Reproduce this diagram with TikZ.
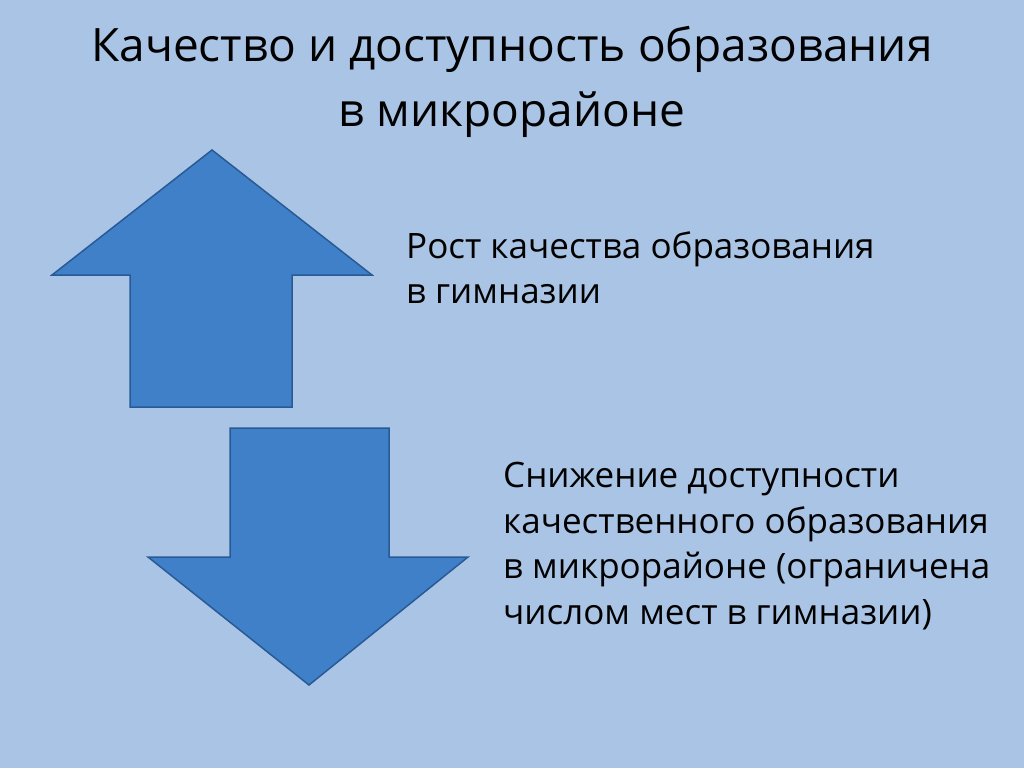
\documentclass[tikz,border=0pt]{standalone}
\usepackage{fontspec}
\setmainfont{Open Sans}
\definecolor{bg}{RGB}{169,196,228}
\definecolor{arr}{RGB}{64,128,200}
\definecolor{arrd}{RGB}{40,90,150}
\begin{document}
\begin{tikzpicture}[x=1pt,y=-1pt,
  arrowshape/.style={fill=arr,draw=arrd,line width=1.5pt,line join=miter},
  txt/.style={anchor=west,align=left,font=\fontsize{35}{45.5}\selectfont,inner sep=0pt}]
\fill[bg] (0,0) rectangle (1024,768);
\useasboundingbox (0,0) rectangle (1024,768);
\node[font=\fontsize{46}{65}\selectfont,align=center] (title) at (512,82) {Качество и доступность образования\\в микрорайоне};
\draw[arrowshape] (212,150) -- (372,275) -- (292,275) -- (292,407) -- (130,407) -- (130,275) -- (52,275) -- cycle;
\draw[arrowshape] (230,428) -- (389,428) -- (389,557) -- (468,557) -- (309,685) -- (148,557) -- (230,557) -- cycle;
\node[txt] (t1) at (406,268) {Рост качества образования\\в гимназии};
\node[txt] (t2) at (503,546) {Снижение доступности\\качественного образования\\в микрорайоне (ограничена\\числом мест в гимназии)};
\end{tikzpicture}
\end{document}
